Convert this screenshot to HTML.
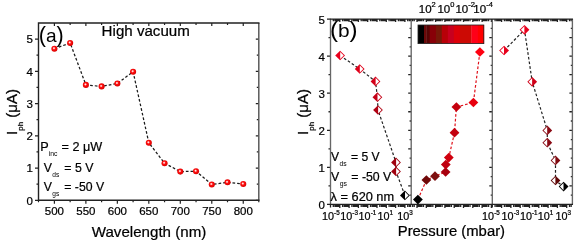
<!DOCTYPE html>
<html><head><meta charset="utf-8"><style>
html,body{margin:0;padding:0;background:#fff;}
svg{display:block;font-family:"Liberation Sans", sans-serif;filter:blur(0.35px);}
text{stroke:#000;stroke-width:0.22px;}
#a_lab,#b_lab{stroke-width:0;}
tspan[font-size="7"]{stroke-width:0;}
</style></head><body>
<svg width="575" height="242" viewBox="0 0 575 242" fill="#000">
<defs>
<radialGradient id="sph" cx="0.45" cy="0.45" r="0.6" fx="0.42" fy="0.41">
<stop offset="0" stop-color="#ffffff"/>
<stop offset="0.18" stop-color="#ffb0b0"/>
<stop offset="0.4" stop-color="#ff1010"/>
<stop offset="0.85" stop-color="#e00000"/>
<stop offset="1" stop-color="#c00000"/>
</radialGradient>
</defs>
<rect width="575" height="242" fill="#fff"/>
<path d="M54.40 200.3v3.5M54.40 23.0v3M85.88 200.3v3.5M85.88 23.0v3M117.35 200.3v3.5M117.35 23.0v3M148.82 200.3v3.5M148.82 23.0v3M180.30 200.3v3.5M180.30 23.0v3M211.78 200.3v3.5M211.78 23.0v3M243.25 200.3v3.5M243.25 23.0v3M38.50 200.3v2M70.14 200.3v2M70.14 23.0v2M101.61 200.3v2M101.61 23.0v2M133.09 200.3v2M133.09 23.0v2M164.56 200.3v2M164.56 23.0v2M196.04 200.3v2M196.04 23.0v2M227.51 200.3v2M227.51 23.0v2M258.80 200.3v2M38.5 200.30h-3.5M258.8 200.30h-3M38.5 168.05h-3.5M258.8 168.05h-3M38.5 135.80h-3.5M258.8 135.80h-3M38.5 103.55h-3.5M258.8 103.55h-3M38.5 71.30h-3.5M258.8 71.30h-3M38.5 39.05h-3.5M258.8 39.05h-3M38.5 184.18h-2M258.8 184.18h-2M38.5 151.93h-2M258.8 151.93h-2M38.5 119.68h-2M258.8 119.68h-2M38.5 87.43h-2M258.8 87.43h-2M38.5 55.18h-2M258.8 55.18h-2" stroke="#222222" stroke-width="1.2" fill="none"/>
<path d="M258.8 23.0V200.3" stroke="#5a5a5a" stroke-width="1.5"/>
<path d="M38.5 22.3V201.0M37.8 23.0H259.5M37.8 200.3H259.5" stroke="#222222" stroke-width="1.4"/>
<text x="32.8" y="204.70" font-size="11.5" text-anchor="end">0</text>
<text x="32.8" y="172.45" font-size="11.5" text-anchor="end">1</text>
<text x="32.8" y="140.20" font-size="11.5" text-anchor="end">2</text>
<text x="32.8" y="107.95" font-size="11.5" text-anchor="end">3</text>
<text x="32.8" y="75.70" font-size="11.5" text-anchor="end">4</text>
<text x="32.8" y="43.45" font-size="11.5" text-anchor="end">5</text>
<text x="54.40" y="215" font-size="11.5" text-anchor="middle">500</text>
<text x="85.88" y="215" font-size="11.5" text-anchor="middle">550</text>
<text x="117.35" y="215" font-size="11.5" text-anchor="middle">600</text>
<text x="148.82" y="215" font-size="11.5" text-anchor="middle">650</text>
<text x="180.30" y="215" font-size="11.5" text-anchor="middle">700</text>
<text x="211.78" y="215" font-size="11.5" text-anchor="middle">750</text>
<text x="243.25" y="215" font-size="11.5" text-anchor="middle">800</text>
<polyline points="54.40,48.70 70.14,42.95 85.88,84.90 101.61,86.40 117.35,83.50 133.09,71.70 148.82,142.80 164.56,163.20 180.30,171.60 196.04,171.20 211.78,184.50 227.51,182.30 243.25,184.00" fill="none" stroke="#1a1a1a" stroke-width="1.25" stroke-dasharray="2.7 2.0"/>
<circle cx="54.40" cy="48.70" r="3.05" fill="url(#sph)"/>
<circle cx="70.14" cy="42.95" r="3.05" fill="url(#sph)"/>
<circle cx="85.88" cy="84.90" r="3.05" fill="url(#sph)"/>
<circle cx="101.61" cy="86.40" r="3.05" fill="url(#sph)"/>
<circle cx="117.35" cy="83.50" r="3.05" fill="url(#sph)"/>
<circle cx="133.09" cy="71.70" r="3.05" fill="url(#sph)"/>
<circle cx="148.82" cy="142.80" r="3.05" fill="url(#sph)"/>
<circle cx="164.56" cy="163.20" r="3.05" fill="url(#sph)"/>
<circle cx="180.30" cy="171.60" r="3.05" fill="url(#sph)"/>
<circle cx="196.04" cy="171.20" r="3.05" fill="url(#sph)"/>
<circle cx="211.78" cy="184.50" r="3.05" fill="url(#sph)"/>
<circle cx="227.51" cy="182.30" r="3.05" fill="url(#sph)"/>
<circle cx="243.25" cy="184.00" r="3.05" fill="url(#sph)"/>
<text id="a_lab" transform="translate(38.72 41.50) scale(1.0066 1)" font-size="21.5">(<tspan font-size="19">a</tspan>)</text>
<text id="hv" transform="translate(101.62 35.90) scale(1.0076 1)" font-size="15">High vacuum</text>
<text id="pinc" transform="translate(40.30 150.90) scale(0.9746 1)" font-size="13">P<tspan font-size="7" dy="5">inc</tspan><tspan dy="-5" dx="0.6"> = 2 μW</tspan></text>
<text id="vds_a" transform="translate(43.67 171.90) scale(0.9467 1)" font-size="13">V<tspan font-size="7" dy="5" dx="0.4">ds</tspan><tspan dy="-5" dx="1.8"> = 5 V</tspan></text>
<text id="vgs_a" transform="translate(43.67 191.40) scale(0.9444 1)" font-size="13">V<tspan font-size="7" dy="5" dx="0.4">gs</tspan><tspan dy="-5" dx="1.8"> = -50 V</tspan></text>
<text id="wl" transform="translate(91.76 236.70) scale(1.0085 1)" font-size="15">Wavelength (nm)</text>
<text id="yla" transform="translate(17.0 134.9) rotate(-90)" font-size="15">I<tspan font-size="8" dy="5.8">ph</tspan><tspan dy="-5.8"> (μA)</tspan></text>
<path d="M330.5 204.40h-3.5M330.5 167.34h-3.5M330.5 130.28h-3.5M330.5 93.22h-3.5M330.5 56.16h-3.5M330.5 19.10h-3.5M330.5 185.87h-2M330.5 148.81h-2M330.5 111.75h-2M330.5 74.69h-2M330.5 37.63h-2M411.2 195.13h-1.6M411.2 185.87h-3M411.2 176.61h-1.6M411.2 167.34h-3M411.2 158.07h-1.6M411.2 148.81h-3M411.2 139.55h-1.6M411.2 130.28h-3M411.2 121.02h-1.6M411.2 111.75h-3M411.2 102.48h-1.6M411.2 93.22h-3M411.2 83.95h-1.6M411.2 74.69h-3M411.2 65.42h-1.6M411.2 56.16h-3M411.2 46.90h-1.6M411.2 37.63h-3M411.2 28.36h-1.6M492.3 195.13h-1.6M492.3 185.87h-3M492.3 176.61h-1.6M492.3 167.34h-3M492.3 158.07h-1.6M492.3 148.81h-3M492.3 139.55h-1.6M492.3 130.28h-3M492.3 121.02h-1.6M492.3 111.75h-3M492.3 102.48h-1.6M492.3 93.22h-3M492.3 83.95h-1.6M492.3 74.69h-3M492.3 65.42h-1.6M492.3 56.16h-3M492.3 46.90h-1.6M492.3 37.63h-3M492.3 28.36h-1.6M572.4 195.13h-1.6M572.4 185.87h-3M572.4 176.61h-1.6M572.4 167.34h-3M572.4 158.07h-1.6M572.4 148.81h-3M572.4 139.55h-1.6M572.4 130.28h-3M572.4 121.02h-1.6M572.4 111.75h-3M572.4 102.48h-1.6M572.4 93.22h-3M572.4 83.95h-1.6M572.4 74.69h-3M572.4 65.42h-1.6M572.4 56.16h-3M572.4 46.90h-1.6M572.4 37.63h-3M572.4 28.36h-1.6M330.50 204.4v3M333.30 204.4v2.5M333.30 19.1v2.2M334.94 204.4v2.5M334.94 19.1v2.2M336.10 204.4v2.5M336.10 19.1v2.2M337.00 204.4v2.5M337.00 19.1v2.2M337.74 204.4v2.5M337.74 19.1v2.2M338.36 204.4v2.5M338.36 19.1v2.2M338.90 204.4v2.5M338.90 19.1v2.2M339.37 204.4v2.5M339.37 19.1v2.2M339.80 204.4v3.6M339.80 19.1v3M342.60 204.4v2.5M342.60 19.1v2.2M344.24 204.4v2.5M344.24 19.1v2.2M345.40 204.4v2.5M345.40 19.1v2.2M346.30 204.4v2.5M346.30 19.1v2.2M347.04 204.4v2.5M347.04 19.1v2.2M347.66 204.4v2.5M347.66 19.1v2.2M348.20 204.4v2.5M348.20 19.1v2.2M348.67 204.4v2.5M348.67 19.1v2.2M349.10 204.4v3.6M349.10 19.1v3M351.90 204.4v2.5M351.90 19.1v2.2M353.54 204.4v2.5M353.54 19.1v2.2M354.70 204.4v2.5M354.70 19.1v2.2M355.60 204.4v2.5M355.60 19.1v2.2M356.34 204.4v2.5M356.34 19.1v2.2M356.96 204.4v2.5M356.96 19.1v2.2M357.50 204.4v2.5M357.50 19.1v2.2M357.97 204.4v2.5M357.97 19.1v2.2M358.40 204.4v3.6M358.40 19.1v3M361.20 204.4v2.5M361.20 19.1v2.2M362.84 204.4v2.5M362.84 19.1v2.2M364.00 204.4v2.5M364.00 19.1v2.2M364.90 204.4v2.5M364.90 19.1v2.2M365.64 204.4v2.5M365.64 19.1v2.2M366.26 204.4v2.5M366.26 19.1v2.2M366.80 204.4v2.5M366.80 19.1v2.2M367.27 204.4v2.5M367.27 19.1v2.2M367.70 204.4v3.6M367.70 19.1v3M370.50 204.4v2.5M370.50 19.1v2.2M372.14 204.4v2.5M372.14 19.1v2.2M373.30 204.4v2.5M373.30 19.1v2.2M374.20 204.4v2.5M374.20 19.1v2.2M374.94 204.4v2.5M374.94 19.1v2.2M375.56 204.4v2.5M375.56 19.1v2.2M376.10 204.4v2.5M376.10 19.1v2.2M376.57 204.4v2.5M376.57 19.1v2.2M377.00 204.4v3.6M377.00 19.1v3M379.80 204.4v2.5M379.80 19.1v2.2M381.44 204.4v2.5M381.44 19.1v2.2M382.60 204.4v2.5M382.60 19.1v2.2M383.50 204.4v2.5M383.50 19.1v2.2M384.24 204.4v2.5M384.24 19.1v2.2M384.86 204.4v2.5M384.86 19.1v2.2M385.40 204.4v2.5M385.40 19.1v2.2M385.87 204.4v2.5M385.87 19.1v2.2M386.30 204.4v3.6M386.30 19.1v3M389.10 204.4v2.5M389.10 19.1v2.2M390.74 204.4v2.5M390.74 19.1v2.2M391.90 204.4v2.5M391.90 19.1v2.2M392.80 204.4v2.5M392.80 19.1v2.2M393.54 204.4v2.5M393.54 19.1v2.2M394.16 204.4v2.5M394.16 19.1v2.2M394.70 204.4v2.5M394.70 19.1v2.2M395.17 204.4v2.5M395.17 19.1v2.2M395.60 204.4v3.6M395.60 19.1v3M398.40 204.4v2.5M398.40 19.1v2.2M400.04 204.4v2.5M400.04 19.1v2.2M401.20 204.4v2.5M401.20 19.1v2.2M402.10 204.4v2.5M402.10 19.1v2.2M402.84 204.4v2.5M402.84 19.1v2.2M403.46 204.4v2.5M403.46 19.1v2.2M404.00 204.4v2.5M404.00 19.1v2.2M404.47 204.4v2.5M404.47 19.1v2.2M404.90 204.4v3.6M404.90 19.1v3M407.70 204.4v2.5M407.70 19.1v2.2M409.34 204.4v2.5M409.34 19.1v2.2M410.50 204.4v2.5M410.50 19.1v2.2M491.40 204.4v3.6M491.40 19.1v3M488.60 204.4v2.5M488.60 19.1v2.2M486.96 204.4v2.5M486.96 19.1v2.2M485.80 204.4v2.5M485.80 19.1v2.2M484.90 204.4v2.5M484.90 19.1v2.2M484.16 204.4v2.5M484.16 19.1v2.2M483.54 204.4v2.5M483.54 19.1v2.2M483.00 204.4v2.5M483.00 19.1v2.2M482.53 204.4v2.5M482.53 19.1v2.2M482.10 204.4v3.6M482.10 19.1v3M479.30 204.4v2.5M479.30 19.1v2.2M477.66 204.4v2.5M477.66 19.1v2.2M476.50 204.4v2.5M476.50 19.1v2.2M475.60 204.4v2.5M475.60 19.1v2.2M474.86 204.4v2.5M474.86 19.1v2.2M474.24 204.4v2.5M474.24 19.1v2.2M473.70 204.4v2.5M473.70 19.1v2.2M473.23 204.4v2.5M473.23 19.1v2.2M472.80 204.4v3.6M472.80 19.1v3M470.00 204.4v2.5M470.00 19.1v2.2M468.36 204.4v2.5M468.36 19.1v2.2M467.20 204.4v2.5M467.20 19.1v2.2M466.30 204.4v2.5M466.30 19.1v2.2M465.56 204.4v2.5M465.56 19.1v2.2M464.94 204.4v2.5M464.94 19.1v2.2M464.40 204.4v2.5M464.40 19.1v2.2M463.93 204.4v2.5M463.93 19.1v2.2M463.50 204.4v3.6M463.50 19.1v3M460.70 204.4v2.5M460.70 19.1v2.2M459.06 204.4v2.5M459.06 19.1v2.2M457.90 204.4v2.5M457.90 19.1v2.2M457.00 204.4v2.5M457.00 19.1v2.2M456.26 204.4v2.5M456.26 19.1v2.2M455.64 204.4v2.5M455.64 19.1v2.2M455.10 204.4v2.5M455.10 19.1v2.2M454.63 204.4v2.5M454.63 19.1v2.2M454.20 204.4v3.6M454.20 19.1v3M451.40 204.4v2.5M451.40 19.1v2.2M449.76 204.4v2.5M449.76 19.1v2.2M448.60 204.4v2.5M448.60 19.1v2.2M447.70 204.4v2.5M447.70 19.1v2.2M446.96 204.4v2.5M446.96 19.1v2.2M446.34 204.4v2.5M446.34 19.1v2.2M445.80 204.4v2.5M445.80 19.1v2.2M445.33 204.4v2.5M445.33 19.1v2.2M444.90 204.4v3.6M444.90 19.1v3M442.10 204.4v2.5M442.10 19.1v2.2M440.46 204.4v2.5M440.46 19.1v2.2M439.30 204.4v2.5M439.30 19.1v2.2M438.40 204.4v2.5M438.40 19.1v2.2M437.66 204.4v2.5M437.66 19.1v2.2M437.04 204.4v2.5M437.04 19.1v2.2M436.50 204.4v2.5M436.50 19.1v2.2M436.03 204.4v2.5M436.03 19.1v2.2M435.60 204.4v3.6M435.60 19.1v3M432.80 204.4v2.5M432.80 19.1v2.2M431.16 204.4v2.5M431.16 19.1v2.2M430.00 204.4v2.5M430.00 19.1v2.2M429.10 204.4v2.5M429.10 19.1v2.2M428.36 204.4v2.5M428.36 19.1v2.2M427.74 204.4v2.5M427.74 19.1v2.2M427.20 204.4v2.5M427.20 19.1v2.2M426.73 204.4v2.5M426.73 19.1v2.2M426.30 204.4v3.6M426.30 19.1v3M423.50 204.4v2.5M423.50 19.1v2.2M421.86 204.4v2.5M421.86 19.1v2.2M420.70 204.4v2.5M420.70 19.1v2.2M419.80 204.4v2.5M419.80 19.1v2.2M419.06 204.4v2.5M419.06 19.1v2.2M418.44 204.4v2.5M418.44 19.1v2.2M417.90 204.4v2.5M417.90 19.1v2.2M417.43 204.4v2.5M417.43 19.1v2.2M417.00 204.4v3.6M417.00 19.1v3M414.20 204.4v2.5M414.20 19.1v2.2M412.56 204.4v2.5M412.56 19.1v2.2M492.30 204.4v3M495.10 204.4v2.5M495.10 19.1v2.2M496.74 204.4v2.5M496.74 19.1v2.2M497.90 204.4v2.5M497.90 19.1v2.2M498.80 204.4v2.5M498.80 19.1v2.2M499.54 204.4v2.5M499.54 19.1v2.2M500.16 204.4v2.5M500.16 19.1v2.2M500.70 204.4v2.5M500.70 19.1v2.2M501.17 204.4v2.5M501.17 19.1v2.2M501.60 204.4v3.6M501.60 19.1v3M504.40 204.4v2.5M504.40 19.1v2.2M506.04 204.4v2.5M506.04 19.1v2.2M507.20 204.4v2.5M507.20 19.1v2.2M508.10 204.4v2.5M508.10 19.1v2.2M508.84 204.4v2.5M508.84 19.1v2.2M509.46 204.4v2.5M509.46 19.1v2.2M510.00 204.4v2.5M510.00 19.1v2.2M510.47 204.4v2.5M510.47 19.1v2.2M510.90 204.4v3.6M510.90 19.1v3M513.70 204.4v2.5M513.70 19.1v2.2M515.34 204.4v2.5M515.34 19.1v2.2M516.50 204.4v2.5M516.50 19.1v2.2M517.40 204.4v2.5M517.40 19.1v2.2M518.14 204.4v2.5M518.14 19.1v2.2M518.76 204.4v2.5M518.76 19.1v2.2M519.30 204.4v2.5M519.30 19.1v2.2M519.77 204.4v2.5M519.77 19.1v2.2M520.20 204.4v3.6M520.20 19.1v3M523.00 204.4v2.5M523.00 19.1v2.2M524.64 204.4v2.5M524.64 19.1v2.2M525.80 204.4v2.5M525.80 19.1v2.2M526.70 204.4v2.5M526.70 19.1v2.2M527.44 204.4v2.5M527.44 19.1v2.2M528.06 204.4v2.5M528.06 19.1v2.2M528.60 204.4v2.5M528.60 19.1v2.2M529.07 204.4v2.5M529.07 19.1v2.2M529.50 204.4v3.6M529.50 19.1v3M532.30 204.4v2.5M532.30 19.1v2.2M533.94 204.4v2.5M533.94 19.1v2.2M535.10 204.4v2.5M535.10 19.1v2.2M536.00 204.4v2.5M536.00 19.1v2.2M536.74 204.4v2.5M536.74 19.1v2.2M537.36 204.4v2.5M537.36 19.1v2.2M537.90 204.4v2.5M537.90 19.1v2.2M538.37 204.4v2.5M538.37 19.1v2.2M538.80 204.4v3.6M538.80 19.1v3M541.60 204.4v2.5M541.60 19.1v2.2M543.24 204.4v2.5M543.24 19.1v2.2M544.40 204.4v2.5M544.40 19.1v2.2M545.30 204.4v2.5M545.30 19.1v2.2M546.04 204.4v2.5M546.04 19.1v2.2M546.66 204.4v2.5M546.66 19.1v2.2M547.20 204.4v2.5M547.20 19.1v2.2M547.67 204.4v2.5M547.67 19.1v2.2M548.10 204.4v3.6M548.10 19.1v3M550.90 204.4v2.5M550.90 19.1v2.2M552.54 204.4v2.5M552.54 19.1v2.2M553.70 204.4v2.5M553.70 19.1v2.2M554.60 204.4v2.5M554.60 19.1v2.2M555.34 204.4v2.5M555.34 19.1v2.2M555.96 204.4v2.5M555.96 19.1v2.2M556.50 204.4v2.5M556.50 19.1v2.2M556.97 204.4v2.5M556.97 19.1v2.2M557.40 204.4v3.6M557.40 19.1v3M560.20 204.4v2.5M560.20 19.1v2.2M561.84 204.4v2.5M561.84 19.1v2.2M563.00 204.4v2.5M563.00 19.1v2.2M563.90 204.4v2.5M563.90 19.1v2.2M564.64 204.4v2.5M564.64 19.1v2.2M565.26 204.4v2.5M565.26 19.1v2.2M565.80 204.4v2.5M565.80 19.1v2.2M566.27 204.4v2.5M566.27 19.1v2.2M566.70 204.4v3.6M566.70 19.1v3M569.50 204.4v2.5M569.50 19.1v2.2M571.14 204.4v2.5M571.14 19.1v2.2" stroke="#222222" stroke-width="1.3" fill="none"/>
<path d="M330.5 19.1V204.4M411.2 19.1V204.4M492.3 19.1V204.4M572.4 19.1V204.4" stroke="#666" stroke-width="1.35"/>
<path d="M329.9 19.1H573.0M329.9 204.4H573.0" stroke="#222222" stroke-width="1.4"/>
<text x="325" y="208.80" font-size="11.5" text-anchor="end">0</text>
<text x="325" y="171.74" font-size="11.5" text-anchor="end">1</text>
<text x="325" y="134.68" font-size="11.5" text-anchor="end">2</text>
<text x="325" y="97.62" font-size="11.5" text-anchor="end">3</text>
<text x="325" y="60.56" font-size="11.5" text-anchor="end">4</text>
<text x="325" y="23.50" font-size="11.5" text-anchor="end">5</text>
<text x="322.02" y="220.4" font-size="10.8">10<tspan font-size="6.3" dx="0" dy="-5.8">-5</tspan></text>
<text x="482.12" y="220.4" font-size="10.8">10<tspan font-size="6.3" dx="0" dy="-5.8">-5</tspan></text>
<text x="340.32" y="220.4" font-size="10.8">10<tspan font-size="6.3" dx="0" dy="-5.8">-3</tspan></text>
<text x="501.62" y="220.4" font-size="10.8">10<tspan font-size="6.3" dx="0" dy="-5.8">-3</tspan></text>
<text x="358.62" y="220.4" font-size="10.8">10<tspan font-size="6.3" dx="0" dy="-5.8">-1</tspan></text>
<text x="519.92" y="220.4" font-size="10.8">10<tspan font-size="6.3" dx="0" dy="-5.8">-1</tspan></text>
<text x="377.52" y="220.4" font-size="10.8">10<tspan font-size="6.3" dx="0" dy="-5.8">1</tspan></text>
<text x="537.82" y="220.4" font-size="10.8">10<tspan font-size="6.3" dx="0" dy="-5.8">1</tspan></text>
<text x="397.22" y="220.4" font-size="10.8">10<tspan font-size="6.3" dx="0" dy="-5.8">3</tspan></text>
<text x="555.52" y="220.4" font-size="10.8">10<tspan font-size="6.3" dx="0" dy="-5.8">3</tspan></text>
<text x="418.75" y="12.8" font-size="11.5">10<tspan font-size="7.5" dx="0" dy="-6.3">2</tspan></text>
<text x="437.45" y="12.8" font-size="11.5">10<tspan font-size="7.5" dx="0" dy="-6.3">0</tspan></text>
<text x="455.45" y="12.8" font-size="11.5">10<tspan font-size="7.5" dx="0" dy="-6.3">-2</tspan></text>
<text x="473.35" y="12.8" font-size="11.5">10<tspan font-size="7.5" dx="0" dy="-6.3">-4</tspan></text>
<rect x="418.00" y="25.0" width="6.30" height="18.6" fill="#000000"/>
<rect x="424.00" y="25.0" width="2.50" height="18.6" fill="#6a0808"/>
<rect x="426.20" y="25.0" width="3.80" height="18.6" fill="#560404"/>
<rect x="429.70" y="25.0" width="6.50" height="18.6" fill="#880008"/>
<rect x="435.90" y="25.0" width="6.20" height="18.6" fill="#781808"/>
<rect x="441.80" y="25.0" width="6.40" height="18.6" fill="#b80008"/>
<rect x="447.90" y="25.0" width="6.30" height="18.6" fill="#c8001e"/>
<rect x="453.90" y="25.0" width="6.30" height="18.6" fill="#dc0008"/>
<rect x="459.90" y="25.0" width="11.80" height="18.6" fill="#cc0a04"/>
<rect x="471.40" y="25.0" width="6.80" height="18.6" fill="#ff0018"/>
<rect x="477.90" y="25.0" width="6.20" height="18.6" fill="#ff0000"/>
<rect x="418.0" y="25.0" width="65.80000000000001" height="18.6" fill="none" stroke="#222" stroke-width="0.8"/>
<polyline points="340.10,55.50 359.70,69.00 375.50,81.40 377.40,97.20 378.00,110.00 396.00,162.40 396.00,171.50 404.90,195.40" fill="none" stroke="#222" stroke-width="1.2" stroke-dasharray="2.7 2.0"/>
<polyline points="417.90,199.60 426.40,180.00 435.00,176.20 445.60,172.00 445.80,164.60 448.80,157.60 454.50,132.70 456.40,107.00 473.40,102.50 479.90,52.00" fill="none" stroke="#e0101a" stroke-width="1.2" stroke-dasharray="2.7 2.0"/>
<polyline points="504.10,50.50 524.50,29.80 532.20,81.80 547.30,130.40 547.30,142.70 555.50,160.40 555.50,180.50 563.60,186.60" fill="none" stroke="#222" stroke-width="1.2" stroke-dasharray="2.7 2.0"/>
<path d="M335.20 55.50L340.10 50.65L345.00 55.50L340.10 60.35Z" fill="#e8001c"/><path d="M340.20 51.95L343.75 55.50L340.20 59.05Z" fill="#fff"/>
<path d="M354.80 69.00L359.70 64.15L364.60 69.00L359.70 73.85Z" fill="#e0001a"/><path d="M359.80 65.45L363.35 69.00L359.80 72.55Z" fill="#fff"/>
<path d="M370.60 81.40L375.50 76.55L380.40 81.40L375.50 86.25Z" fill="#d40018"/><path d="M375.60 77.85L379.15 81.40L375.60 84.95Z" fill="#fff"/>
<path d="M372.50 97.20L377.40 92.35L382.30 97.20L377.40 102.05Z" fill="#c40016"/><path d="M377.50 93.65L381.05 97.20L377.50 100.75Z" fill="#fff"/>
<path d="M373.10 110.00L378.00 105.15L382.90 110.00L378.00 114.85Z" fill="#b00012"/><path d="M378.10 106.45L381.65 110.00L378.10 113.55Z" fill="#fff"/>
<path d="M391.10 162.40L396.00 157.55L400.90 162.40L396.00 167.25Z" fill="#a0000e"/><path d="M396.10 158.85L399.65 162.40L396.10 165.95Z" fill="#fff"/>
<path d="M391.10 171.50L396.00 166.65L400.90 171.50L396.00 176.35Z" fill="#a0000e"/><path d="M396.10 167.95L399.65 171.50L396.10 175.05Z" fill="#fff"/>
<path d="M400.00 195.40L404.90 190.55L409.80 195.40L404.90 200.25Z" fill="#000000"/><path d="M405.00 191.85L408.55 195.40L405.00 198.95Z" fill="#fff"/>
<path d="M413.00 199.60L417.90 194.75L422.80 199.60L417.90 204.45Z" fill="#000000"/>
<path d="M421.50 180.00L426.40 175.15L431.30 180.00L426.40 184.85Z" fill="#700808"/>
<path d="M430.10 176.20L435.00 171.35L439.90 176.20L435.00 181.05Z" fill="#7e1010"/>
<path d="M440.70 172.00L445.60 167.15L450.50 172.00L445.60 176.85Z" fill="#a8000e"/>
<path d="M440.90 164.60L445.80 159.75L450.70 164.60L445.80 169.45Z" fill="#c00010"/>
<path d="M443.90 157.60L448.80 152.75L453.70 157.60L448.80 162.45Z" fill="#d0000e"/>
<path d="M449.60 132.70L454.50 127.85L459.40 132.70L454.50 137.55Z" fill="#c4000e"/>
<path d="M451.50 107.00L456.40 102.15L461.30 107.00L456.40 111.85Z" fill="#c4000e"/>
<path d="M468.50 102.50L473.40 97.65L478.30 102.50L473.40 107.35Z" fill="#e8000e"/>
<path d="M475.00 52.00L479.90 47.15L484.80 52.00L479.90 56.85Z" fill="#ff0010"/>
<path d="M499.20 50.50L504.10 45.65L509.00 50.50L504.10 55.35Z" fill="#e8001c"/><path d="M504.00 46.95L500.45 50.50L504.00 54.05Z" fill="#fff"/>
<path d="M519.60 29.80L524.50 24.95L529.40 29.80L524.50 34.65Z" fill="#e8001c"/><path d="M524.40 26.25L520.85 29.80L524.40 33.35Z" fill="#fff"/>
<path d="M527.30 81.80L532.20 76.95L537.10 81.80L532.20 86.65Z" fill="#d00018"/><path d="M532.10 78.25L528.55 81.80L532.10 85.35Z" fill="#fff"/>
<path d="M542.40 130.40L547.30 125.55L552.20 130.40L547.30 135.25Z" fill="#8a0a14"/><path d="M547.20 126.85L543.65 130.40L547.20 133.95Z" fill="#fff"/>
<path d="M542.40 142.70L547.30 137.85L552.20 142.70L547.30 147.55Z" fill="#8a0a14"/><path d="M547.20 139.15L543.65 142.70L547.20 146.25Z" fill="#fff"/>
<path d="M550.60 160.40L555.50 155.55L560.40 160.40L555.50 165.25Z" fill="#800a10"/><path d="M555.40 156.85L551.85 160.40L555.40 163.95Z" fill="#fff"/>
<path d="M550.60 180.50L555.50 175.65L560.40 180.50L555.50 185.35Z" fill="#600808"/><path d="M555.40 176.95L551.85 180.50L555.40 184.05Z" fill="#fff"/>
<path d="M558.70 186.60L563.60 181.75L568.50 186.60L563.60 191.45Z" fill="#000000"/><path d="M563.50 183.05L559.95 186.60L563.50 190.15Z" fill="#fff"/>
<text id="b_lab" transform="translate(329.94 36.60) scale(1.0985 1)" font-size="22">(<tspan font-size="19">b</tspan>)</text>
<text id="vds_b" transform="translate(331.07 161.40) scale(0.9701 1)" font-size="12.5">V<tspan font-size="7" dy="5" dx="0.4">ds</tspan><tspan dy="-5" dx="1.0"> = 5 V</tspan></text>
<text id="vgs_b" transform="translate(331.06 180.50) scale(0.9855 1)" font-size="12.5">V<tspan font-size="7" dy="5" dx="0.4">gs</tspan><tspan dy="-5" dx="1.0"> = -50 V</tspan></text>
<text id="lam" transform="translate(330.59 200.60) scale(1.0230 1)" font-size="12.5">λ = 620 nm</text>
<text id="pr" transform="translate(397.72 236.10) scale(1.0395 1)" font-size="14.3">Pressure (mbar)</text>
<text id="ylb" transform="translate(307.8 134.9) rotate(-90)" font-size="15">I<tspan font-size="8" dy="5.8">ph</tspan><tspan dy="-5.8"> (μA)</tspan></text>
</svg>
</body></html>
